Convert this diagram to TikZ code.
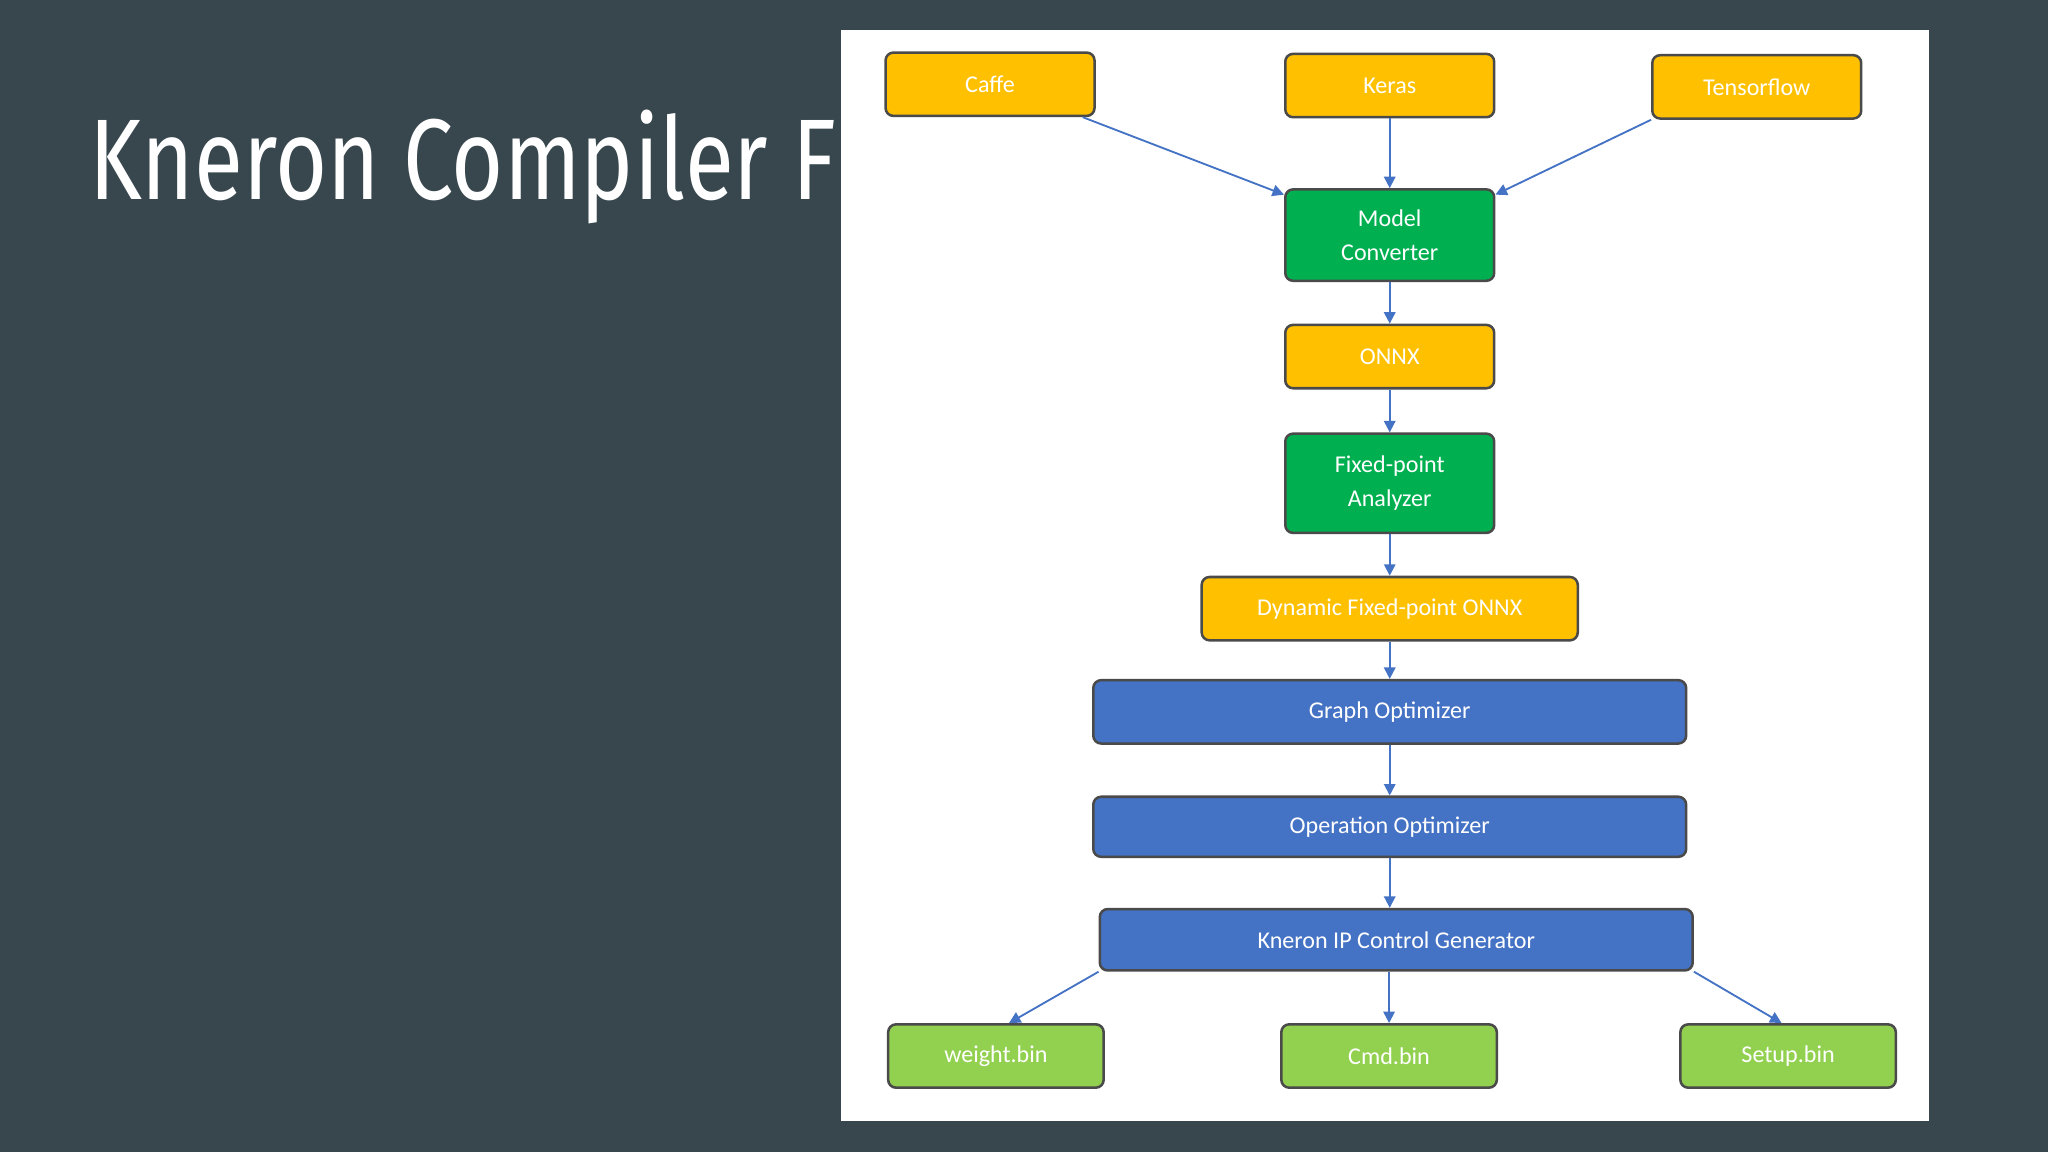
\documentclass[tikz,border=0pt]{standalone}
\usepackage{fontspec}
\setmainfont{Carlito}
\newfontfamily\titlefont{Fira Sans}
\usetikzlibrary{arrows.meta}
\definecolor{bg}{HTML}{38464E}
\definecolor{org}{HTML}{FFC000}
\definecolor{grn}{HTML}{00B050}
\definecolor{blu}{HTML}{4472C4}
\definecolor{lgr}{HTML}{92D050}
\definecolor{edge}{HTML}{4A4A4A}
\definecolor{arr}{HTML}{4472C4}
\begin{document}
\begin{tikzpicture}[x=0.02cm,y=-0.02cm,
  box/.style={draw=edge,line width=1.1pt,rounded corners=0.12cm,text=white,font=\fontsize{10.5}{15}\selectfont,align=center,inner sep=0pt,minimum width=3.2cm,minimum height=0.97cm},
  ar/.style={draw=arr,line width=0.8pt,-{Triangle[length=5pt,width=5pt]}}]
\fill[bg] (0,0) rectangle (1568,882);
\useasboundingbox (0,0) rectangle (1568,882);
\fill[white] (644,23) rectangle (1477,858);
\node[anchor=west,text=white,inner sep=0pt] (title) at (68,128) {\titlefont\fontsize{50}{60}\selectfont\scalebox{0.78}[1]{Kneron Compiler Flow}};
\node[box,fill=org] (caffe) at (758,64.5) {Caffe};
\node[box,fill=org] (keras) at (1064,65.5) {Keras};
\node[box,fill=org] (tf) at (1345,66.5) {Tensorflow};
\node[box,fill=grn,minimum height=1.4cm] (mc) at (1064,180) {Model\\Converter};
\node[box,fill=org] (onnx) at (1064,273) {ONNX};
\node[box,fill=grn,minimum height=1.52cm] (fpa) at (1064,370) {Fixed-point\\Analyzer};
\node[box,fill=org,minimum width=5.76cm] (dfo) at (1064,466) {Dynamic Fixed-point ONNX};
\node[box,fill=blu,minimum width=9.08cm] (go) at (1064,545) {Graph Optimizer};
\node[box,fill=blu,minimum width=9.08cm,minimum height=0.92cm] (oo) at (1064,633) {Operation Optimizer};
\node[box,fill=blu,minimum width=9.08cm,minimum height=0.94cm] (kip) at (1069,719.5) {Kneron IP Control Generator};
\node[box,fill=lgr,minimum width=3.3cm] (wb) at (762.5,808.5) {weight.bin};
\node[box,fill=lgr,minimum width=3.3cm] (cb) at (1063.5,808.5) {Cmd.bin};
\node[box,fill=lgr,minimum width=3.3cm] (sb) at (1369,808.5) {Setup.bin};
\draw[ar] ([xshift=-0.2cm]caffe.south east) -- ([yshift=-0.1cm]mc.north west);
\draw[ar] (keras) -- (mc);
\draw[ar] (tf.south west) -- ([yshift=-0.1cm]mc.north east);
\draw[ar] (mc) -- (onnx);
\draw[ar] (onnx) -- (fpa);
\draw[ar] (fpa) -- (dfo);
\draw[ar] (dfo) -- (go);
\draw[ar] (go) -- (oo);
\draw[ar] (oo.south) -- (oo.south |- kip.north);
\draw[ar] (kip.south west) -- ([xshift=0.2cm]wb.north);
\draw[ar] (cb.north |- kip.south) -- (cb.north);
\draw[ar] (kip.south east) -- ([xshift=-0.1cm]sb.north);
\end{tikzpicture}
\end{document}
